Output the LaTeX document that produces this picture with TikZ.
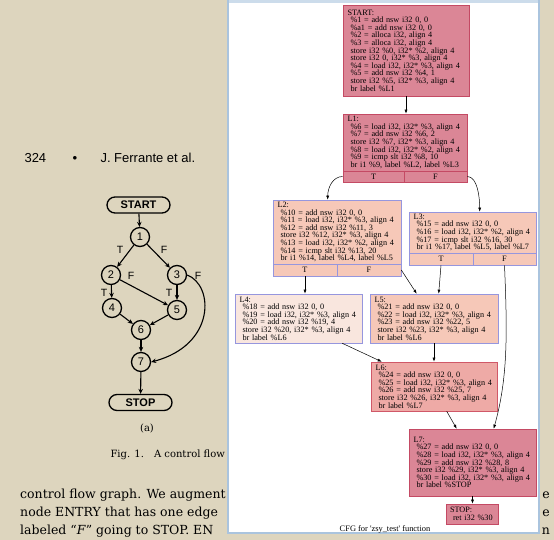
\documentclass[tikz,border=0pt]{standalone}
\usepackage{fontspec}
\setmainfont{Liberation Serif}
\newfontfamily\gvfont{Liberation Serif}
\newfontfamily\pagesans{Liberation Sans}
\newfontfamily\pageserif{DejaVu Serif}
\usetikzlibrary{arrows.meta}
\usetikzlibrary{calc}

\definecolor{paper}{RGB}{221,213,190}
\definecolor{hotfill}{RGB}{219,134,150}
\definecolor{hotline}{RGB}{196,74,100}
\definecolor{warmfill}{RGB}{238,170,166}
\definecolor{warmline}{RGB}{208,88,104}
\definecolor{midfill}{RGB}{246,200,184}
\definecolor{coolfill}{RGB}{249,230,222}
\definecolor{blueline}{RGB}{150,150,222}
\definecolor{winline}{RGB}{170,196,222}

\newcommand{\ind}{\hspace*{3pt}}

\begin{document}
\begin{tikzpicture}[x=1pt, y=-1pt,
    blk/.style={rectangle, draw, line width=0.6pt, inner xsep=4.5pt, inner ysep=0pt, align=left,
        font=\gvfont\fontsize{8.2}{7.6}\selectfont},
    cell/.style={rectangle, draw, line width=0.6pt, inner sep=0pt,
        font=\gvfont\fontsize{8.2}{8.2}\selectfont},
    hot/.style={draw=hotline, fill=hotfill},
    warm/.style={draw=warmline, fill=warmfill},
    mid/.style={draw=blueline, fill=midfill},
    cool/.style={draw=blueline, fill=coolfill},
    gvedge/.style={line width=0.5pt, -{Latex[length=4pt,width=3pt]}},
    fterm/.style={draw, rounded corners=8pt, minimum width=63pt, minimum height=16pt, inner sep=0pt,
        line width=1.3pt, font=\pagesans\bfseries\fontsize{11}{11}\selectfont},
    fnode/.style={draw, circle, minimum size=19pt, inner sep=0pt, line width=1.3pt,
        font=\pagesans\fontsize{11}{11}\selectfont},
    fedge/.style={line width=1.1pt, -{Stealth[length=5pt,width=4.5pt]}},
    flab/.style={font=\pagesans\fontsize{10.5}{10.5}\selectfont},
    body/.style={font=\pageserif\fontsize{12.5}{12.5}\selectfont, inner sep=0pt}]

    % paper page behind the window
    \fill[paper] (0,0) rectangle (554,540);
    \useasboundingbox (0,0) rectangle (554,540);

    \node[font=\pagesans\fontsize{13}{13}\selectfont, anchor=west] (pnum) at (21,158) {324};
    \node[font=\pagesans\fontsize{9}{9}\selectfont] (pdot) at (75,158) {$\bullet$};
    \node[font=\pagesans\fontsize{13}{13}\selectfont, anchor=west] (pauth) at (97,158) {J. Ferrante et al.};

    % Fig. 1 (a)
    \node[fterm] (fstart) at (138.5,205) {START};
    \node[fnode] (c1) at (140,237) {1};
    \node[fnode] (c2) at (111,275) {2};
    \node[fnode] (c3) at (177,275) {3};
    \node[fnode] (c4) at (112,308) {4};
    \node[fnode] (c5) at (177,310) {5};
    \node[fnode] (c6) at (141,330) {6};
    \node[fnode] (c7) at (141,362) {7};
    \node[fterm] (fstop) at (140.5,402.5) {STOP};

    \draw[fedge] (fstart) -- (c1);
    \draw[fedge] (c1) -- (c2);
    \draw[fedge] (c1) -- (c3);
    \draw[fedge] (c2) -- (c4);
    \draw[fedge] (c2) -- (c5);
    \draw[fedge] (c3) -- (c5);
    \draw[fedge] (c3.east) .. controls (214,285) and (216,345) .. (c7.east);
    \draw[fedge] (c4) -- (c6);
    \draw[fedge] (c5) -- (c6);
    \draw[fedge] (c6) -- (c7);
    \draw[fedge] (c7) -- (fstop);

    \node[flab] (lt1) at (120,250) {T};
    \node[flab] (lf1) at (164,250) {F};
    \node[flab] (lf2) at (131,276) {F};
    \node[flab] (lt2) at (104,293) {T};
    \node[flab] (lt3) at (169,293) {T};
    \node[flab] (lf3) at (198,276) {F};

    \node[font=\pageserif\fontsize{10}{10}\selectfont] (sub) at (147,428) {(a)};
    \node[font=\pageserif\fontsize{10}{10}\selectfont, anchor=base west] (figcap) at (107,457) {Fig. 1.\quad A control flow};

    \begin{scope}
        \clip (0,480) rectangle (228,540);
        \node[body, anchor=base west] (line1) at (20,498) {control flow graph. We augment};
        \node[body, anchor=base west] (line2) at (20,516) {node ENTRY that has one edge};
        \node[body, anchor=base west] (line3) at (20,534) {labeled “\textit{F}” going to STOP. EN};
    \end{scope}
    \node[body, anchor=base] (tail1) at (546,498) {e};
    \node[body, anchor=base] (tail2) at (546,516) {e};
    \node[body, anchor=base] (tail3) at (546,534) {n};

    % viewer window
    \fill[white] (228,0) rectangle (539,533);
    \fill[winline!60] (228,0) rectangle (539,3);
    \draw[winline, line width=1.2pt] (228,-2) rectangle (539,533);

    % CFG blocks
    \node[blk, hot, text width=117pt, minimum height=91pt] (start) at (406,50.5) {START:\\
        \ind\%1 = add nsw i32 0, 0\\
        \ind\%a1 = add nsw i32 0, 0\\
        \ind\%2 = alloca i32, align 4\\
        \ind\%3 = alloca i32, align 4\\
        \ind store i32 \%0, i32* \%2, align 4\\
        \ind store i32 0, i32* \%3, align 4\\
        \ind\%4 = load i32, i32* \%3, align 4\\
        \ind\%5 = add nsw i32 \%4, 1\\
        \ind store i32 \%5, i32* \%3, align 4\\
        \ind br label \%L1};

    \node[blk, hot, text width=115pt, minimum height=57pt] (l1) at (405,142.5) {L1:\\
        \ind\%6 = load i32, i32* \%3, align 4\\
        \ind\%7 = add nsw i32 \%6, 2\\
        \ind store i32 \%7, i32* \%3, align 4\\
        \ind\%8 = load i32, i32* \%2, align 4\\
        \ind\%9 = icmp slt i32 \%8, 10\\
        \ind br i1 \%9, label \%L2, label \%L3};
    \node[cell, hot, minimum width=61pt, minimum height=11pt] (l1T) at (373.5,176.5) {T};
    \node[cell, hot, minimum width=63pt, minimum height=11pt] (l1F) at (435.5,176.5) {F};

    \node[blk, mid, text width=119pt, minimum height=64pt] (l2) at (337,232) {L2:\\
        \ind\%10 = add nsw i32 0, 0\\
        \ind\%11 = load i32, i32* \%3, align 4\\
        \ind\%12 = add nsw i32 \%11, 3\\
        \ind store i32 \%12, i32* \%3, align 4\\
        \ind\%13 = load i32, i32* \%2, align 4\\
        \ind\%14 = icmp slt i32 \%13, 20\\
        \ind br i1 \%14, label \%L4, label \%L5};
    \node[cell, mid, minimum width=64pt, minimum height=12pt] (l2T) at (305,270) {T};
    \node[cell, mid, minimum width=64pt, minimum height=12pt] (l2F) at (369,270) {F};

    \node[blk, mid, text width=118pt, minimum height=41pt] (l3) at (472.5,232.5) {L3:\\
        \ind\%15 = add nsw i32 0, 0\\
        \ind\%16 = load i32, i32* \%2, align 4\\
        \ind\%17 = icmp slt i32 \%16, 30\\
        \ind br i1 \%17, label \%L5, label \%L7};
    \node[cell, mid, minimum width=64pt, minimum height=12pt] (l3T) at (441,259) {T};
    \node[cell, mid, minimum width=63pt, minimum height=12pt] (l3F) at (504.5,259) {F};

    \node[blk, cool, text width=118pt, minimum height=49pt] (l4) at (298.5,318.5) {L4:\\
        \ind\%18 = add nsw i32 0, 0\\
        \ind\%19 = load i32, i32* \%3, align 4\\
        \ind\%20 = add nsw i32 \%19, 4\\
        \ind store i32 \%20, i32* \%3, align 4\\
        \ind br label \%L6};

    \node[blk, mid, text width=119pt, minimum height=49pt] (l5) at (434,318.5) {L5:\\
        \ind\%21 = add nsw i32 0, 0\\
        \ind\%22 = load i32, i32* \%3, align 4\\
        \ind\%23 = add nsw i32 \%22, 5\\
        \ind store i32 \%23, i32* \%3, align 4\\
        \ind br label \%L6};

    \node[blk, warm, text width=117pt, minimum height=49pt] (l6) at (434,386.5) {L6:\\
        \ind\%24 = add nsw i32 0, 0\\
        \ind\%25 = load i32, i32* \%3, align 4\\
        \ind\%26 = add nsw i32 \%25, 7\\
        \ind store i32 \%26, i32* \%3, align 4\\
        \ind br label \%L7};

    \node[blk, hot, text width=118pt, minimum height=67pt] (l7) at (472.5,462.5) {L7:\\
        \ind\%27 = add nsw i32 0, 0\\
        \ind\%28 = load i32, i32* \%3, align 4\\
        \ind\%29 = add nsw i32 \%28, 8\\
        \ind store i32 \%29, i32* \%3, align 4\\
        \ind\%30 = load i32, i32* \%3, align 4\\
        \ind br label \%STOP};

    \node[blk, hot, inner xsep=4pt, text width=44pt, minimum height=20pt] (stop) at (472,514) {STOP:\\
        \ind ret i32 \%30};

    \node[font=\gvfont\fontsize{8.4}{8.4}\selectfont] (title) at (385,529) {CFG for 'zsy\_test' function};

    % CFG edges
    \draw[gvedge] (start.south) -- (start.south |- l1.north);
    \draw[gvedge] (l1T.west) .. controls +(-10,0) and +(0,-12) .. ([xshift=55pt]l2.north west);
    \draw[gvedge] (l1F.east) .. controls +(10,0) and +(0,-15) .. ([xshift=71pt]l3.north west);
    \draw[gvedge] (l2T.south) -- (l2T.south |- l4.north);
    \draw[gvedge] (l2F.east) -- ([xshift=47pt]l5.north west);
    \draw[gvedge] (l3T.south) -- ([xshift=69pt]l5.north west);
    \draw[gvedge] (l3F.south) .. controls +(3,70) and +(14,-50) .. ([xshift=85pt]l7.north west);
    \draw[gvedge] ([xshift=-20pt]l4.south east) -- ([xshift=11pt]l6.north west);
    \draw[gvedge] (l5.south) -- (l5.south |- l6.north);
    \draw[gvedge] ([xshift=76pt]l6.south west) -- ([xshift=48pt]l7.north west);
    \draw[gvedge] (l7.south) -- (l7.south |- stop.north);
\end{tikzpicture}
\end{document}
